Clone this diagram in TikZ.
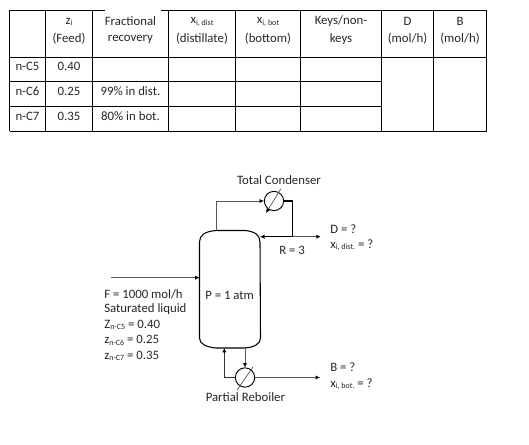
\documentclass[tikz,border=0pt]{standalone}
\usepackage{fontspec}
\setmainfont{Carlito}
\usetikzlibrary{arrows.meta,calc}
\tikzset{
  x=0.75pt,y=-0.75pt,
  grid/.style={line width=0.75pt,black},
  txt/.style={inner sep=0pt,font=\fontsize{9.6pt}{11pt}\selectfont,text=black!85},
  cell/.style={txt,anchor=center},
  lab/.style={txt,anchor=west},
  exch/.style={circle,draw=black,line width=0.7pt,minimum size=14.5pt,inner sep=0pt},
  thin line/.style={line width=0.5pt,black!65,-{Latex[length=3.2pt,width=3pt,black]}},
  dark line/.style={line width=0.8pt,black},
  vessel/.style={line width=0.8pt,black},
}
\newcommand{\sm}[1]{\raisebox{-1.2pt}{\fontsize{6pt}{6pt}\selectfont #1}}
\begin{document}
\begin{tikzpicture}
\useasboundingbox (0,0) rectangle (529,445);
% table
\draw[grid] (9.5,10.5) -- (105,10.5) (161,10.5) -- (486.7,10.5);
\draw[grid] (9.5,57.5) -- (486.7,57.5);
\draw[grid] (9.5,81.5) -- (381.5,81.5);
\draw[grid] (9.5,106.5) -- (381.5,106.5);
\draw[grid] (9.5,131.5) -- (486.7,131.5);
\foreach \c in {9.5,45.5,92.5,168.5,235.5,300.5,381.5,433,486.7}
  \draw[grid] (\c,10.5) -- (\c,131.5);
% header
\node[cell] (h1a) at (69,22) {z\sm{i}};
\node[cell] (h1b) at (69,39) {(Feed)};
\node[cell] (h2a) at (130.5,21) {Fractional};
\node[cell] (h2b) at (130.5,39) {recovery};
\node[cell] (h3a) at (202,22) {x\sm{i, dist}};
\node[cell] (h3b) at (202,39) {(distillate)};
\node[cell] (h4a) at (268,22) {x\sm{i, bot}};
\node[cell] (h4b) at (268,39) {(bottom)};
\node[cell] (h5a) at (341,21) {Keys/non-};
\node[cell] (h5b) at (341,39) {keys};
\node[cell] (h6a) at (407.5,21) {D};
\node[cell] (h6b) at (407.5,39) {(mol/h)};
\node[cell] (h7a) at (460,21) {B};
\node[cell] (h7b) at (460,39) {(mol/h)};
% rows
\node[cell] (r1) at (27.5,66) {n-C5};
\node[cell] (r2) at (27.5,91) {n-C6};
\node[cell] (r3) at (27.5,116) {n-C7};
\node[cell] (v1) at (69,66) {0.40};
\node[cell] (v2) at (69,91) {0.25};
\node[cell] (v3) at (69,116) {0.35};
\node[cell] (f2) at (130.5,91) {99\% in dist.};
\node[cell] (f3) at (130.5,116) {80\% in bot.};
% column
\draw[vessel]
  (199.5,242) .. controls (199.5,235) and (205,231.5) .. (216,230.5)
  -- (245,230.5) .. controls (255,231.5) and (260,235) .. (260,242)
  -- (260.5,338) .. controls (260.5,344) and (254,347.5) .. (244,348)
  -- (216,348) .. controls (206,347) and (199.5,344) .. (199.5,338) -- cycle;
\node[cell] (ctitle) at (279,180) {Total Condenser};
\node[exch] (cond) at (274,201) {};
\node[exch] (reb) at (245,377.5) {};
\coordinate (vapbase) at (216,230.5);
\coordinate (vapturn) at (216,201);
\coordinate (condturn) at (292.7,201);
\coordinate (split) at (292.7,236.7);
\coordinate (reflux) at (260,236.7);
\coordinate (dist) at (320.7,236.7);
\coordinate (feedstart) at (111,277.7);
\coordinate (feedend) at (199.5,277.7);
\coordinate (retbase) at (224.3,348);
\coordinate (retturn) at (224.3,377.5);
\coordinate (rebin) at (245,348);
\coordinate (botout) at (320,377.5);
\draw[thin line] (vapbase) -- (vapturn) -- (cond.west);
\draw[dark line] (cond.east) -- (condturn) -- (split);
\draw[dark line,-{Latex[length=3.5pt,width=3.5pt]}] (split) -- (reflux);
\draw[thin line] (split) -- (dist);
\draw[line width=0.5pt,black!70,-{Latex[length=3.2pt,width=3pt,black]}] (280.7,189) -- (266,213);
\draw[thin line] (feedstart) -- (feedend);
\draw[thin line,black!80] (reb.west) -- (retturn) -- (retbase);
\draw[thin line] (rebin) -- (reb.north);
\draw[thin line] (reb.east) -- (botout);
\draw[line width=0.5pt,black!70] (237,390) -- (253,367);
% labels
\node[lab] (rr) at (279,250) {R = 3};
\node[lab] (dq) at (330,229.5) {D = ?};
\node[lab] (xd) at (330,245) {x\sm{i, dist.} = ?};
\node[lab] (pp) at (205,295) {P = 1 atm};
\node[lab] (fa) at (104,294) {F = 1000 mol/h};
\node[lab] (fb) at (104,309.5) {Saturated liquid};
\node[lab] (fc) at (104,325) {Z\sm{n-C5} = 0.40};
\node[lab] (fd) at (104,340.5) {z\sm{n-C6} = 0.25};
\node[lab] (fe) at (104,356) {z\sm{n-C7} = 0.35};
\node[lab] (bq) at (330,367.5) {B = ?};
\node[lab] (xb) at (330,384) {x\sm{i, bot.} = ?};
\node[lab] (pr) at (205.5,397) {Partial Reboiler};
\end{tikzpicture}
\end{document}
